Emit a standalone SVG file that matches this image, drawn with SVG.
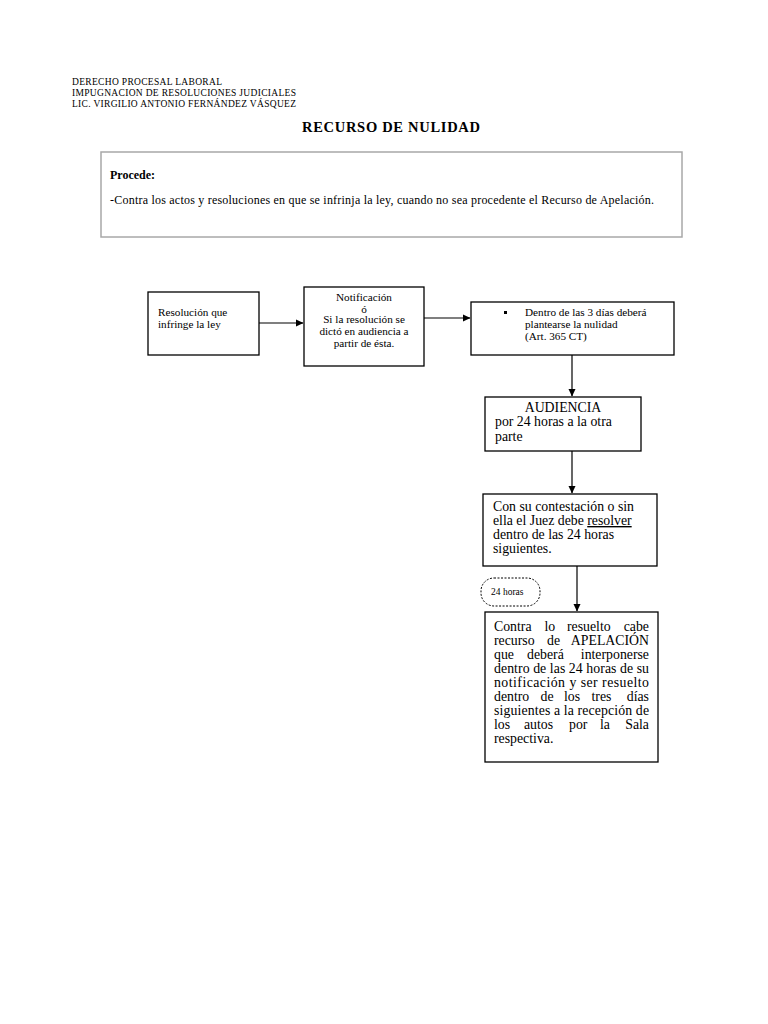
<svg xmlns="http://www.w3.org/2000/svg" width="768" height="1024" viewBox="0 0 768 1024">
<style>
text{font-family:"Liberation Serif","Times New Roman",serif;fill:#000}
.hd{font-size:9.5px}
.sm{font-size:11.2px}
.md{font-size:13.8px}
.box{fill:#fff;stroke:#000;stroke-width:1.3}
.ln{stroke:#000;stroke-width:1.2;fill:none}
</style>
<defs>
<marker id="ah" markerWidth="8" markerHeight="8" refX="7" refY="4" orient="auto" markerUnits="userSpaceOnUse">
<path d="M0,0.5 L7.5,4 L0,7.5 Z" fill="#000"/>
</marker>
</defs>
<rect width="768" height="1024" fill="#fff"/>
<g id="header">
<text class="hd" x="72" y="85" textLength="150">DERECHO PROCESAL LABORAL</text>
<text class="hd" x="72" y="96" textLength="224">IMPUGNACION DE RESOLUCIONES JUDICIALES</text>
<text class="hd" x="72" y="107" textLength="224">LIC. VIRGILIO ANTONIO FERNÁNDEZ VÁSQUEZ</text>
<text x="391" y="132" text-anchor="middle" font-size="14.5" font-weight="bold" textLength="178">RECURSO DE NULIDAD</text>
</g>
<g id="procede">
<rect x="101" y="152" width="581" height="85" fill="#fff" stroke="#a8a8a8" stroke-width="1.5"/>
<text x="110" y="179" font-size="12" font-weight="bold">Procede:</text>
<text x="110" y="204" font-size="12" textLength="544">-Contra los actos y resoluciones en que se infrinja la ley, cuando no sea procedente el Recurso de Apelación.</text>
</g>
<g id="connectors">
<line class="ln" x1="259" y1="323" x2="303" y2="323" marker-end="url(#ah)"/>
<line class="ln" x1="424" y1="318" x2="470" y2="318" marker-end="url(#ah)"/>
<line class="ln" x1="572" y1="355" x2="572" y2="396" marker-end="url(#ah)"/>
<line class="ln" x1="572" y1="451" x2="572" y2="493" marker-end="url(#ah)"/>
<line class="ln" x1="577" y1="566" x2="577" y2="611" marker-end="url(#ah)"/>
</g>
<g id="n1">
<rect class="box" x="148" y="292" width="111" height="63"/>
<text class="sm" x="158" y="316">Resolución que</text>
<text class="sm" x="158" y="328">infringe la ley</text>
</g>
<g id="n2">
<rect class="box" x="304" y="287" width="120" height="79"/>
<text class="sm" x="364" y="301" text-anchor="middle">Notificación</text>
<text class="sm" x="364" y="313" text-anchor="middle">ó</text>
<text class="sm" x="364" y="323" text-anchor="middle">Si la resolución se</text>
<text class="sm" x="364" y="335" text-anchor="middle">dictó en audiencia a</text>
<text class="sm" x="364" y="347" text-anchor="middle">partir de ésta.</text>
</g>
<g id="n3">
<rect class="box" x="471" y="302" width="203" height="53"/>
<rect x="504" y="311" width="3" height="3" fill="#000"/>
<text class="sm" x="525" y="316">Dentro de las 3 días deberá</text>
<text class="sm" x="525" y="328">plantearse la nulidad</text>
<text class="sm" x="525" y="340">(Art. 365 CT)</text>
</g>
<g id="n4">
<rect class="box" x="485" y="397" width="156" height="54"/>
<text class="md" x="563" y="412" text-anchor="middle">AUDIENCIA</text>
<text class="md" x="495" y="426">por 24 horas a la otra</text>
<text class="md" x="495" y="441">parte</text>
</g>
<g id="n5">
<rect class="box" x="483" y="494" width="174" height="72"/>
<text class="md" x="493" y="511">Con su contestación o sin</text>
<text class="md" x="493" y="525">ella el Juez debe <tspan text-decoration="underline">resolver </tspan></text>
<text class="md" x="493" y="539">dentro de las 24 horas</text>
<text class="md" x="493" y="553">siguientes.</text>
</g>
<g id="n6">
<rect x="481" y="578" width="59" height="28" rx="13" fill="#fff" stroke="#000" stroke-width="1" stroke-dasharray="2,1.5"/>
<text x="491" y="595" font-size="9.5">24 horas</text>
</g>
<g id="n7">
<rect class="box" x="485" y="612" width="173" height="150"/>
<text class="md" y="631"><tspan x="494">Contra</tspan> <tspan x="544.5">lo</tspan> <tspan x="567">resuelto</tspan> <tspan x="649" text-anchor="end">cabe</tspan></text>
<text class="md" y="645"><tspan x="494">recurso</tspan> <tspan x="547">de</tspan> <tspan x="649" text-anchor="end">APELACIÓN</tspan></text>
<text class="md" y="659"><tspan x="494">que</tspan> <tspan x="527">deberá</tspan> <tspan x="649" text-anchor="end">interponerse</tspan></text>
<text class="md" x="494" y="673" textLength="155" lengthAdjust="spacing">dentro de las 24 horas de su</text>
<text class="md" x="494" y="687" textLength="155" lengthAdjust="spacing">notificación y ser resuelto</text>
<text class="md" y="701"><tspan x="494">dentro</tspan> <tspan x="540.5">de</tspan> <tspan x="564">los</tspan> <tspan x="591.5">tres</tspan> <tspan x="649" text-anchor="end">días</tspan></text>
<text class="md" x="494" y="715" textLength="155" lengthAdjust="spacing">siguientes a la recepción de</text>
<text class="md" y="729"><tspan x="494">los</tspan> <tspan x="524">autos</tspan> <tspan x="569">por</tspan> <tspan x="600">la</tspan> <tspan x="649" text-anchor="end">Sala</tspan></text>
<text class="md" x="494" y="743">respectiva.</text>
</g>
</svg>
